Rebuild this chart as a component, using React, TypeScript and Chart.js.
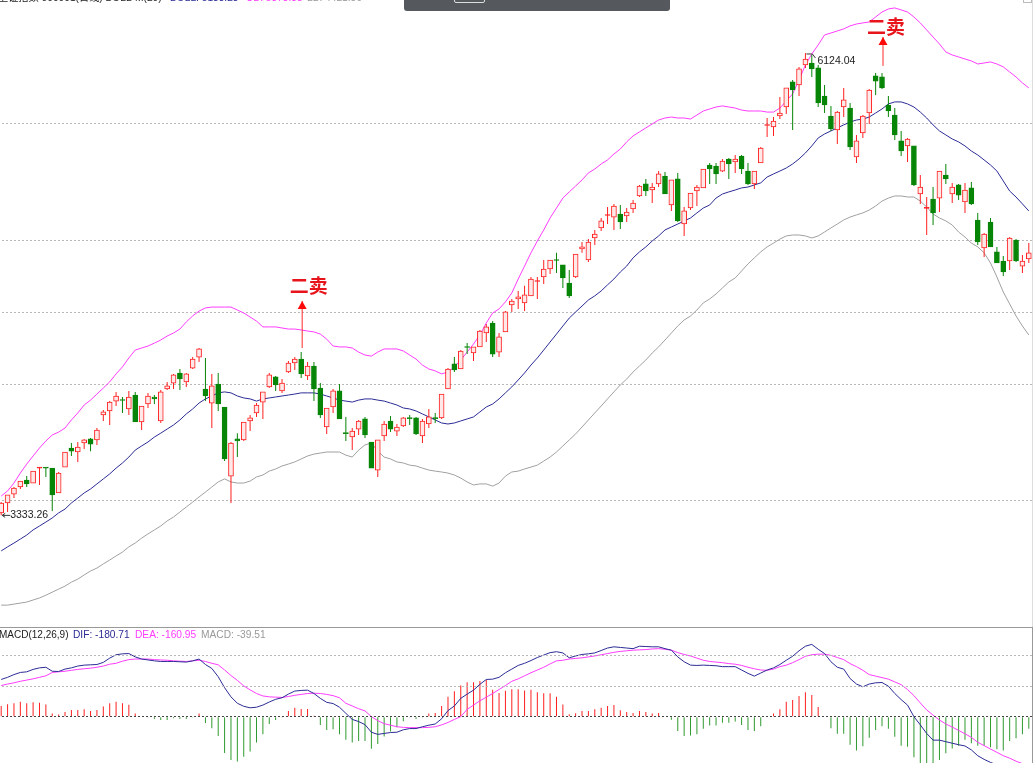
import React, { useEffect, useRef } from 'react';
import { Chart, registerables } from 'chart.js';

Chart.register(...registerables);

// daily candles
const opens = [3344,3388,3428,3460,3492,3478,3547,3552,3547,3433,3552,3642,3623,3666,3686,3681,3804,3824,3874,3882,3834,3905,3769,3859,3895,3774,3936,3967,4020,3973,4046,4105,3936,3864,3962,3844,3510,3686,3681,3774,3814,3869,3947,3999,3926,4025,4073,4094,4004,4057,3941,3744,3844,3926,3717,3695,3734,3784,3671,3538,3700,3774,3724,3749,3791,3789,3700,3759,3791,3789,3936,4068,4041,4162,4127,4160,4237,4293,4132,4243,4396,4431,4408,4449,4534,4561,4609,4667,4634,4525,4561,4732,4664,4801,4865,4945,4935,4955,4942,4988,5074,5155,5114,5155,5209,5014,5189,4890,4994,5107,5128,5285,5278,5243,5327,5306,5348,5243,5155,5299,5567,5556,5637,5704,5895,5872,6028,6044,6005,5787,5637,5534,5704,5696,5341,5512,5659,5942,5934,5719,5644,5455,5419,5419,5087,4991,5054,5060,5216,5087,5148,5034,5128,4916,4738,4903,4714,4658,4658,4788,4627,4670];
const highs = [3392,3424,3460,3487,3510,3533,3552,3552,3547,3529,3623,3666,3671,3686,3690,3739,3829,3874,3921,3895,3926,3921,3849,3916,3905,3931,3973,4015,4041,4020,4105,4154,4100,4015,4020,3844,3671,3714,3769,3804,3864,3921,4020,4004,3988,4084,4105,4132,4078,4078,3967,3839,3936,3962,3794,3739,3779,3794,3671,3681,3774,3799,3759,3794,3804,3794,3784,3834,3814,3910,4046,4105,4143,4181,4160,4254,4287,4304,4237,4361,4431,4478,4508,4561,4561,4664,4664,4708,4634,4603,4701,4776,4794,4852,4929,5001,5021,5014,4994,5047,5148,5189,5162,5243,5236,5182,5230,5001,5094,5148,5257,5299,5299,5327,5334,5355,5355,5299,5243,5412,5622,5629,5780,5849,5910,6013,6124.04,6108,6028,5872,5712,5674,5849,5734,5498,5644,5841,5965,5965,5787,5696,5527,5476,5419,5216,5067,5134,5243,5292,5162,5155,5162,5168,4962,4833,4929,4745,4689,4807,4794,4695,4769];
const lows = [3333.26,3348,3410,3451,3460,3478,3469,3506,3353,3433,3552,3604,3576,3637,3627,3657,3774,3754,3849,3814,3804,3769,3729,3839,3859,3764,3931,3936,3931,3947,4041,4078,3874,3739,3824,3580,3388,3599,3676,3724,3794,3784,3941,3926,3916,4020,4036,3994,3983,3874,3789,3710,3814,3784,3676,3632,3705,3690,3547,3506,3676,3719,3700,3744,3754,3705,3666,3739,3764,3784,3936,4025,4041,4121,4084,4160,4187,4105,4105,4243,4356,4373,4361,4449,4431,4519,4579,4585,4496,4437,4555,4708,4652,4757,4846,4890,4852,4858,4903,4962,5067,5074,5027,5134,5087,4975,4903,4814,4981,5007,5128,5155,5155,5236,5189,5230,5223,5148,5121,5299,5484,5491,5614,5651,5534,5787,6005,5934,5704,5659,5527,5433,5629,5390,5299,5476,5578,5795,5841,5629,5462,5348,5306,5141,5021,4820,4884,4968,5155,5027,5047,4962,5014,4757,4683,4745,4646,4567,4603,4652,4585,4646];
const closes = [3388,3424,3455,3487,3474,3533,3552,3547,3424,3524,3623,3627,3647,3681,3661,3729,3819,3869,3900,3877,3895,3769,3849,3900,3885,3921,3952,4010,3988,4015,4094,4149,3900,3952,3859,3590,3666,3676,3769,3789,3854,3921,4010,3957,3967,4073,4094,4015,4057,3936,3804,3839,3926,3784,3712,3724,3774,3705,3547,3681,3759,3734,3744,3789,3786,3710,3774,3794,3786,3910,4041,4036,4138,4157,4160,4248,4271,4121,4215,4356,4419,4443,4455,4549,4540,4609,4664,4661,4555,4449,4701,4745,4776,4826,4910,4952,5007,4903,4968,5027,5141,5107,5134,5223,5087,5182,4910,4975,5094,5134,5257,5257,5223,5313,5292,5327,5257,5155,5243,5404,5574,5600,5659,5849,5833,5997,6076,5997,5734,5719,5541,5666,5757,5412,5455,5637,5833,5902,5849,5674,5498,5383,5469,5148,5134,4998,4962,5243,5189,5134,5080,5114,5021,4776,4826,4745,4646,4591,4801,4658,4658,4708];

const bollUpper = [3419,3442,3478,3524,3566,3604,3642,3676,3705,3719,3739,3779,3814,3854,3879,3910,3941,3973,4015,4052,4100,4143,4154,4165,4181,4198,4220,4237,4259,4299,4333,4361,4379,4384,4384,4384,4384,4367,4350,4327,4304,4271,4271,4271,4265,4259,4259,4254,4248,4243,4231,4203,4165,4160,4160,4154,4132,4116,4110,4132,4149,4149,4149,4138,4116,4094,4062,4041,4031,4015,4025,4052,4089,4132,4176,4226,4293,4350,4373,4414,4466,4549,4627,4708,4782,4852,4929,4994,5060,5101,5141,5182,5230,5257,5292,5320,5362,5397,5448,5491,5520,5549,5578,5607,5622,5629,5622,5622,5614,5644,5674,5689,5704,5712,5704,5696,5681,5674,5674,5674,5666,5666,5696,5749,5803,5910,6028,6116,6189,6271,6287,6304,6321,6346,6362,6371,6379,6421,6463,6489,6498,6481,6463,6421,6371,6312,6254,6197,6132,6108,6092,6076,6060,6036,6044,6052,6036,6013,5973,5934,5887,5849];
const bollMid = [3181,3198,3214,3231,3248,3270,3287,3304,3322,3344,3361,3388,3410,3433,3451,3474,3497,3520,3547,3571,3599,3632,3652,3671,3695,3714,3734,3754,3779,3809,3834,3864,3885,3900,3916,3921,3916,3900,3890,3885,3874,3885,3890,3895,3900,3905,3910,3916,3916,3916,3910,3900,3890,3879,3874,3869,3879,3885,3885,3879,3874,3864,3854,3839,3834,3824,3809,3794,3779,3764,3759,3764,3774,3784,3794,3819,3844,3859,3885,3916,3947,3983,4020,4062,4100,4143,4187,4231,4276,4321,4356,4390,4425,4449,4478,4514,4549,4591,4627,4677,4714,4745,4782,4814,4852,4871,4890,4910,4929,4962,4994,5014,5060,5087,5101,5114,5128,5134,5148,5162,5202,5223,5243,5264,5292,5327,5369,5419,5476,5505,5527,5549,5571,5592,5607,5614,5629,5659,5689,5727,5742,5742,5727,5704,5666,5622,5571,5527,5498,5469,5448,5419,5383,5355,5320,5285,5243,5175,5107,5067,5021,4975];
const bollLower = [2962,2962,2966,2970,2974,2982,2990,3001,3013,3025,3037,3053,3065,3082,3098,3110,3127,3143,3160,3176,3198,3214,3235,3253,3270,3287,3309,3326,3348,3370,3392,3415,3437,3460,3483,3497,3483,3478,3478,3487,3506,3515,3533,3543,3557,3566,3576,3590,3604,3613,3618,3623,3623,3623,3608,3599,3632,3657,3666,3627,3599,3590,3576,3571,3561,3557,3547,3538,3533,3529,3524,3515,3501,3483,3469,3474,3474,3464,3478,3510,3529,3533,3543,3552,3561,3580,3599,3623,3652,3681,3710,3744,3779,3814,3849,3885,3921,3957,3988,4025,4057,4089,4127,4160,4198,4237,4276,4310,4333,4367,4408,4431,4460,4496,4531,4555,4597,4640,4677,4714,4745,4769,4794,4814,4820,4820,4814,4801,4814,4839,4865,4890,4916,4935,4949,4962,4981,5007,5040,5060,5074,5074,5067,5067,5040,5001,4955,4929,4910,4884,4839,4807,4769,4745,4708,4646,4561,4472,4402,4333,4276,4226];

const dif = [122,129,138,145,147,155,160,162,149,148,156,160,166,169,170,171,178,192,203,206,207,196,189,186,183,181,181,181,180,179,183,189,171,158,131,95,65,44,34,29,31,38,48,57,62,74,84,86,87,76,60,47,43,31,11,-9,-16,-26,-51,-58,-55,-52,-51,-43,-39,-39,-33,-28,-24,-7,20,35,60,74,87,106,122,123,129,144,156,168,175,184,194,202,210,213,209,193,199,204,206,209,217,225,229,227,225,223,231,230,229,229,223,218,196,180,169,168,169,168,167,164,164,164,153,142,133,143,153,160,171,185,198,216,231,237,221,207,180,162,156,125,107,98,107,111,112,100,76,56,38,0,-27,-55,-77,-77,-82,-87,-92,-96,-109,-128,-140,-150,-158,-166,-172,-177,-179,-180.71];
const dea = [102,107,111,116,120,124,129,134,145,147,149,152,155,157,159,162,166,172,175,182,187,189,189,189,187,186,185,183,182,181,183,185,181,175,170,153,135,119,101,88,76,68,65,64,63,66,70,73,76,77,76,73,69,62,44,35,26,19,0,-13,-23,-28,-33,-35,-36,-36,-36,-35,-33,-27,-19,-9,0,24,38,52,64,76,89,102,116,124,134,144,153,162,173,183,185,189,191,193,196,199,203,207,211,214,216,218,219,220,222,223,221,218,210,204,199,192,185,181,179,177,174,172,168,162,157,153,152,156,164,169,177,187,198,203,205,205,201,194,187,174,164,152,138,133,128,123,114,105,89,69,45,22,5,-11,-24,-34,-45,-56,-68,-84,-95,-106,-117,-128,-136,-146,-154,-160.95];
const macdBars = [35,41,44,49,44,47,46,40,10,7,15,22,22,24,19,22,33,44,49,44,39,10,1,-1,-8,-11,-11,-5,-8,-8,-1,10,-21,-38,-63,-119,-142,-147,-131,-114,-85,-58,-24,-11,-1,19,29,25,25,3,-27,-44,-41,-58,-76,-85,-80,-80,-105,-90,-65,-49,-35,-15,-3,-8,-1,10,12,35,65,83,102,113,113,117,120,88,78,85,90,90,86,88,80,77,77,65,40,8,11,19,19,24,29,35,38,21,15,12,19,15,10,12,-2,-10,-47,-63,-62,-58,-40,-29,-29,-20,-20,-16,-27,-44,-47,-31,-2,10,24,49,55,68,80,71,32,1,-38,-56,-56,-92,-111,-97,-69,-44,-31,-40,-66,-95,-99,-133,-155,-160,-158,-142,-120,-104,-95,-76,-87,-95,-95,-100,-107,-111,-80,-71,-58,-39.51];

const priceGridTicks = [3397, 3962, 4350, 4788, 5578];
const macdGridTicks = [0, 100, 200];
const days = closes.map((_, i) => String(i));

// second sell points
const sellDays = [47, 138];
const sellTails = [4154, 6021];
const sellTips = [4419, 6254];
const sellLabelPrices = [4508, 6337];
const sellLabelShifts = [6.5, 3];

const RED = '#ff1f1f';
const GREEN = '#078507';
const PRICE_FONT = '10.5px "Liberation Sans"';

const markers = {
  id: 'markers',
  afterDatasetsDraw(chart: Chart) {
    const { ctx, scales } = chart;
    const x = scales.x;
    const y = scales.y;
    ctx.save();

    sellDays.forEach((day, i) => {
      const px = x.getPixelForValue(day) + 1;
      const tip = y.getPixelForValue(sellTips[i]);
      const tail = y.getPixelForValue(sellTails[i]);
      ctx.strokeStyle = '#ff2a2a';
      ctx.fillStyle = '#ff0a0a';
      ctx.lineWidth = 1;
      ctx.beginPath();
      ctx.moveTo(px, tail);
      ctx.lineTo(px, tip);
      ctx.stroke();
      ctx.beginPath();
      ctx.moveTo(px, tip);
      ctx.lineTo(px - 4.5, tip + 8);
      ctx.lineTo(px + 4.5, tip + 8);
      ctx.closePath();
      ctx.fill();
      ctx.font = 'bold 19px "Noto Sans CJK SC"';
      ctx.fillStyle = '#e8141c';
      ctx.textAlign = 'center';
      ctx.textBaseline = 'middle';
      ctx.fillText('二卖', px + sellLabelShifts[i], y.getPixelForValue(sellLabelPrices[i]));
    });

    const highDay = highs.indexOf(Math.max(...highs));
    const lowDay = lows.indexOf(Math.min(...lows));
    const hx = x.getPixelForValue(highDay);
    const hy = y.getPixelForValue(highs[highDay]);
    const lx = x.getPixelForValue(lowDay);
    const ly = y.getPixelForValue(lows[lowDay]);

    ctx.strokeStyle = '#333';
    ctx.lineWidth = 1;
    ctx.beginPath();
    ctx.moveTo(hx + 1, hy + 1);
    ctx.lineTo(hx + 7, hy + 1);
    ctx.lineTo(hx + 10, hy + 5);
    ctx.moveTo(lx + 1, ly);
    ctx.lineTo(lx + 9, ly);
    ctx.moveTo(lx + 4, ly - 2);
    ctx.lineTo(lx + 1, ly);
    ctx.lineTo(lx + 4, ly + 2);
    ctx.stroke();

    ctx.font = PRICE_FONT;
    ctx.fillStyle = '#222';
    ctx.textAlign = 'left';
    ctx.textBaseline = 'middle';
    ctx.fillText(highs[highDay].toFixed(2), hx + 12, hy + 8);
    ctx.fillText(lows[lowDay].toFixed(2), lx + 9, ly);
    ctx.restore();
  },
};

function lineSet(label: string, data: number[], color: string, order: number) {
  return { type: 'line' as const, label, data, borderColor: color, borderWidth: 1, pointRadius: 0, tension: 0, order };
}

function KLineChart() {
  const canvasRef = useRef<HTMLCanvasElement>(null);

  useEffect(() => {
    if (!canvasRef.current) return;
    const chart = new Chart(canvasRef.current, {
      type: 'bar',
      data: {
        labels: days,
        datasets: [
          lineSet('UB', bollUpper, '#ff3cff', 3),
          lineSet('BOLL', bollMid, '#2b2b96', 3),
          lineSet('LB', bollLower, '#a0a0a0', 3),
          {
            label: 'wick',
            data: lows.map((low, i) => [low, highs[i]]),
            backgroundColor: (c: any) => (closes[c.dataIndex] >= opens[c.dataIndex] ? RED : GREEN),
            barThickness: 1,
            inflateAmount: 0,
            grouped: false,
            order: 2,
          },
          {
            label: 'body',
            data: opens.map((open, i) => [open, closes[i]]),
            backgroundColor: (c: any) => {
              const open = opens[c.dataIndex];
              const close = closes[c.dataIndex];
              if (close < open) return GREEN;
              return (close - open) / open < 0.002 ? RED : '#ffe8e8';
            },
            borderColor: (c: any) => (closes[c.dataIndex] >= opens[c.dataIndex] ? RED : GREEN),
            borderWidth: 1,
            borderSkipped: false,
            barThickness: 5,
            grouped: false,
            order: 1,
          },
        ] as any,
      },
      options: {
        animation: false,
        responsive: false,
        devicePixelRatio: 1,
        layout: { padding: 0 },
        plugins: { legend: { display: false }, tooltip: { enabled: false } },
        scales: {
          x: { display: false, offset: true, grid: { display: false } },
          y: {
            type: 'logarithmic',
            position: 'right',
            bounds: 'data',
            min: 2878,
            max: 6566,
            afterBuildTicks: (scale: any) => {
              scale.ticks = priceGridTicks.map((value) => ({ value }));
            },
            ticks: { display: false },
            grid: { color: '#b8b8b8', drawTicks: false },
            border: { display: false, dash: [2, 2] },
          },
        },
      } as any,
      plugins: [markers],
    });

    return () => chart.destroy();
  }, []);

  return <canvas ref={canvasRef} width={1034} height={627} style={{ position: 'absolute', left: -2, top: 0 }} />;
}

function MacdChart() {
  const canvasRef = useRef<HTMLCanvasElement>(null);

  useEffect(() => {
    if (!canvasRef.current) return;
    const chart = new Chart(canvasRef.current, {
      type: 'bar',
      data: {
        labels: days,
        datasets: [
          lineSet('DIF', dif, '#2b2b96', 1),
          lineSet('DEA', dea, '#ff3cff', 1),
          {
            label: 'MACD',
            data: macdBars,
            backgroundColor: macdBars.map((v) => (v >= 0 ? RED : '#2f9a2f')),
            barThickness: 1,
            inflateAmount: 0,
            order: 2,
          },
        ] as any,
      },
      options: {
        animation: false,
        responsive: false,
        devicePixelRatio: 1,
        layout: { padding: 0 },
        plugins: { legend: { display: false }, tooltip: { enabled: false } },
        scales: {
          x: { display: false, offset: true, grid: { display: false } },
          y: {
            position: 'right',
            bounds: 'data',
            min: -151.9,
            max: 294,
            afterBuildTicks: (scale: any) => {
              scale.ticks = macdGridTicks.map((value) => ({ value }));
            },
            ticks: { display: false },
            grid: {
              color: (c: any) => (c.tick && c.tick.value === 0 ? '#444' : '#b8b8b8'),
              drawTicks: false,
              z: 1,
            },
            border: { display: false, dash: [2, 2] },
          },
        },
      } as any,
    });

    return () => chart.destroy();
  }, []);

  return <canvas ref={canvasRef} width={1034} height={136} style={{ position: 'absolute', left: -2, top: 627 }} />;
}

function Label({ x, y, color, text, size = 10.2 }: { x: number; y: number; color: string; text: string; size?: number }) {
  return (
    <span
      style={{
        position: 'absolute',
        left: x,
        top: y,
        color,
        font: `${size}px "Liberation Sans", "Noto Sans CJK SC"`,
        lineHeight: '12px',
        whiteSpace: 'pre',
      }}
    >
      {text}
    </span>
  );
}

export default function App() {
  return (
    <div style={{ position: 'absolute', left: 0, top: 0, width: 1035, height: 763, overflow: 'hidden', background: '#fff' }}>
      <KLineChart />
      <MacdChart />
      <div style={{ position: 'absolute', left: 0, top: 627, width: 1032, height: 1, background: '#999' }} />
      <div style={{ position: 'absolute', left: 1032, top: 0, width: 1, height: 627, background: '#ddd' }} />
      <div style={{ position: 'absolute', left: 1032, top: 627, width: 1, height: 136, background: '#999' }} />
      <div style={{ position: 'absolute', left: 404, top: 0, width: 266, height: 11, background: '#55585c', borderRadius: '0 0 3px 3px' }} />
      <div style={{ position: 'absolute', left: 454, top: -3, width: 29, height: 4, border: '1px solid #ddd', borderRadius: 2 }} />
      <div style={{ position: 'absolute', left: 1023, top: -4, width: 7, height: 5, border: '1px solid #bbb' }} />
      <Label x={-2} y={-8} color="#222" text="上证指数 000001(日线) BOLL-M(20)" />
      <Label x={170} y={-8} color="#2b2b96" text="BOLL: 5133.23" />
      <Label x={246} y={-8} color="#ff3cff" text="UB: 5878.83" />
      <Label x={307} y={-8} color="#999" text="LB: 4421.56" />
      <Label x={-1} y={629} color="#222" text="MACD(12,26,9)" size={10} />
      <Label x={73} y={629} color="#2b2b96" text="DIF: -180.71" />
      <Label x={135} y={629} color="#ff3cff" text="DEA: -160.95" />
      <Label x={201} y={629} color="#999" text="MACD: -39.51" />
    </div>
  );
}
